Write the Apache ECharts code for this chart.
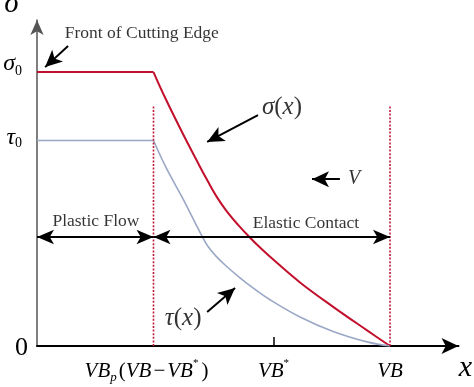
<!DOCTYPE html>
<html>
<head>
<meta charset="utf-8">
<script src="https://cdn.jsdelivr.net/npm/echarts@6/dist/echarts.min.js"></script>
<style>html,body{margin:0;padding:0;background:#fff;}#c{width:474px;height:387px;}</style>
</head>
<body>
<div id="c"></div>
<script>
// ---- data (normalised: VB = 10, sigma0 = 1) ----
const VB = 10;
const VBp = 3.3;
const VBstar = 6.7;
const sigma0 = 1.0;
const tau0 = 0.75;
const sigmaX = [3.3, 3.63, 4.10, 4.59, 4.84, 5.07, 5.35, 5.69, 6.03, 6.37, 6.74, 7.45, 8.39, 9.35, 10];
const sigmaY = [1.0, 0.906, 0.783, 0.661, 0.601, 0.549, 0.496, 0.443, 0.396, 0.353, 0.310, 0.232, 0.143, 0.057, 0];
const tauX = [3.3, 3.65, 4.11, 4.67, 4.84, 5.07, 5.35, 5.75, 6.09, 6.60, 7.45, 8.39, 9.35, 10];
const tauY = [0.75, 0.653, 0.543, 0.402, 0.364, 0.328, 0.293, 0.249, 0.215, 0.169, 0.106, 0.053, 0.015, 0];
const xTickValues = [VBp, VBstar, VB];
const xTickLabels = ['{i|VB}{sub|p}{n|(}{i|VB}{m|\u2212}{i|VB}{sup|*}{e|)}', '{i|VB}{sup|*}', '{i|VB}'];
const yTickValues = [0, tau0, sigma0];
const yTickLabels = ['{z|0}', '{g2|\u03c4}{s2|0}{sp|}', '{g1|\u03c3}{s1|0}{sp|}'];
const regionY = 0.398;
const dottedTop = 0.88;
// annotation texts [x, y, text]
const notes = [
  [2.97, 1.142, '{t|Front of Cutting Edge}'],
  [1.67, 0.453, '{t|Plastic Flow}'],
  [7.62, 0.449, '{t|Elastic Contact}'],
  [6.94, 0.872, '{g|\u03c3}{p|(}{g|x}{p|)}'],
  [4.14, 0.102, '{g|\u03c4}{p|(}{g|x}{p|)}'],
  [8.98, 0.609, '{v|V}']
];
// pointer arrows [tailX, tailY, tipX, tipY]
const pointers = [
  [0.88, 1.095, 0.23, 1.018],
  [6.26, 0.843, 4.82, 0.745],
  [4.82, 0.124, 5.61, 0.212],
  [8.58, 0.609, 7.79, 0.609]
];

const serif = 'Liberation Serif';
const RED = '#c20f2c';
const BLUE = '#9aa8c6';
const DOT = '#c01838';

function pickLabel(values, labels, v) {
  let best = 0;
  for (let i = 0; i < values.length; i++) {
    if (Math.abs(values[i] - v) < Math.abs(values[best] - v)) best = i;
  }
  return labels[best];
}

const chart = echarts.init(document.getElementById('c'), null, {renderer: 'canvas'});
const option = {
  animation: false,
  backgroundColor: '#fff',
  grid: {left: 37, right: 15.5, top: 20, bottom: 41, containLabel: false, outerBoundsMode: 'none'},
  xAxis: {
    type: 'value', min: 0, max: 11.94,
    name: 'x', nameLocation: 'end', nameGap: 0,
    nameTextStyle: {fontFamily: serif, fontStyle: 'italic', fontSize: 30, color: '#000',
      align: 'center', verticalAlign: 'top', padding: [7, 0, 0, 14]},
    splitLine: {show: false},
    axisLine: {show: true, symbol: ['none', 'arrow'], symbolSize: [12, 17],
      lineStyle: {color: '#000', width: 2}},
    axisTick: {show: true, inside: true, length: 9, customValues: [VBstar],
      lineStyle: {color: '#000', width: 1.5}},
    axisLabel: {
      customValues: xTickValues, margin: 12,
      formatter: v => pickLabel(xTickValues, xTickLabels, v),
      rich: {
        i: {fontFamily: serif, fontStyle: 'italic', fontSize: 21, lineHeight: 26, color: '#000', verticalAlign: 'middle'},
        n: {fontFamily: serif, fontSize: 21, lineHeight: 26, color: '#000', verticalAlign: 'middle', padding: [0, 0, 0, 2]},
        m: {fontFamily: serif, fontSize: 21, lineHeight: 26, color: '#000', verticalAlign: 'middle', padding: [0, 2, 0, 2]},
        e: {fontFamily: serif, fontSize: 21, lineHeight: 26, color: '#000', verticalAlign: 'middle', padding: [0, 14, 0, 3]},
        sub: {fontFamily: serif, fontStyle: 'italic', fontSize: 13, lineHeight: 12, color: '#000', verticalAlign: 'bottom'},
        sup: {fontFamily: serif, fontSize: 11, lineHeight: 11, color: '#000', verticalAlign: 'top'}
      }
    }
  },
  yAxis: {
    type: 'value', min: 0, max: 1.19,
    name: '\u03c3', nameLocation: 'end', nameGap: 16,
    nameTextStyle: {fontFamily: serif, fontStyle: 'italic', fontSize: 30, color: '#000',
      align: 'right', verticalAlign: 'middle', padding: [0, 18, 0, 0]},
    splitLine: {show: false},
    axisLine: {show: true, symbol: ['none', 'arrow'], symbolSize: [10, 15],
      lineStyle: {color: '#555', width: 1.5}},
    axisTick: {show: false},
    axisLabel: {
      customValues: yTickValues, margin: 9,
      formatter: v => pickLabel(yTickValues, yTickLabels, v),
      rich: {
        z: {fontFamily: serif, fontSize: 26, color: '#000', padding: [4, 0, 0, 0]},
        g1: {fontFamily: serif, fontStyle: 'italic', fontSize: 24, lineHeight: 20, color: '#000', verticalAlign: 'top'},
        s1: {fontFamily: serif, fontSize: 14, lineHeight: 14, color: '#000', verticalAlign: 'top', padding: [12, 0, 0, 0]},
        g2: {fontFamily: serif, fontStyle: 'italic', fontSize: 24, lineHeight: 20, color: '#000', verticalAlign: 'top', padding: [5, 0, 0, 0]},
        s2: {fontFamily: serif, fontSize: 14, lineHeight: 14, color: '#000', verticalAlign: 'top', padding: [16, 0, 0, 0]},
        sp: {width: 6, height: 40, verticalAlign: 'top'}
      }
    }
  },
  series: [
    {type: 'line', name: 'sigma-plastic', data: [[0, sigma0], [VBp, sigma0]], symbol: 'none',
      lineStyle: {color: RED, width: 2}},
    {type: 'line', name: 'sigma', data: sigmaX.map((x, i) => [x, sigmaY[i]]), symbol: 'none',
      smooth: 0.4, lineStyle: {color: RED, width: 2}},
    {type: 'line', name: 'tau-plastic', data: [[0, tau0], [VBp, tau0]], symbol: 'none',
      lineStyle: {color: BLUE, width: 1.6}},
    {type: 'line', name: 'tau', data: tauX.map((x, i) => [x, tauY[i]]), symbol: 'none',
      smooth: 0.4, lineStyle: {color: BLUE, width: 1.6}},
    {type: 'line', name: 'bound1', data: [[VBp, 0], [VBp, dottedTop]], symbol: 'none',
      lineStyle: {color: DOT, width: 1.6, type: [2, 1.6]}},
    {type: 'line', name: 'bound2', data: [[VB, 0], [VB, dottedTop]], symbol: 'none',
      lineStyle: {color: DOT, width: 1.6, type: [2, 1.6]}},
    {type: 'line', name: 'regions', data: [], symbol: 'none',
      markLine: {silent: true, animation: false, symbol: ['arrow', 'arrow'], symbolSize: [11, 17],
        label: {show: false}, lineStyle: {color: '#000', width: 2, type: 'solid'},
        data: [
          [{coord: [0, regionY]}, {coord: [VBp, regionY]}],
          [{coord: [VBp, regionY]}, {coord: [VB, regionY]}]
        ]}},
    {type: 'line', name: 'pointers', data: [], symbol: 'none',
      markLine: {silent: true, animation: false, symbol: ['none', 'arrow'], symbolSize: [12, 17],
        label: {show: false}, lineStyle: {color: '#000', width: 2, type: 'solid'},
        data: pointers.map(p => [{coord: [p[0], p[1]]}, {coord: [p[2], p[3]]}])}},
    {type: 'scatter', name: 'notes', symbolSize: 0, silent: true,
      data: notes.map(n => ({value: [n[0], n[1]], label: {formatter: n[2]}})),
      label: {show: true, position: 'inside', align: 'center', verticalAlign: 'middle',
        rich: {
          t: {fontFamily: serif, fontSize: 17.5, color: '#000'},
          g: {fontFamily: serif, fontStyle: 'italic', fontSize: 25, color: '#000'},
          p: {fontFamily: serif, fontSize: 25, color: '#000'},
          v: {fontFamily: serif, fontStyle: 'italic', fontSize: 20, color: '#000'}
        }}}
  ]
};
chart.setOption(option);
</script>
</body>
</html>
